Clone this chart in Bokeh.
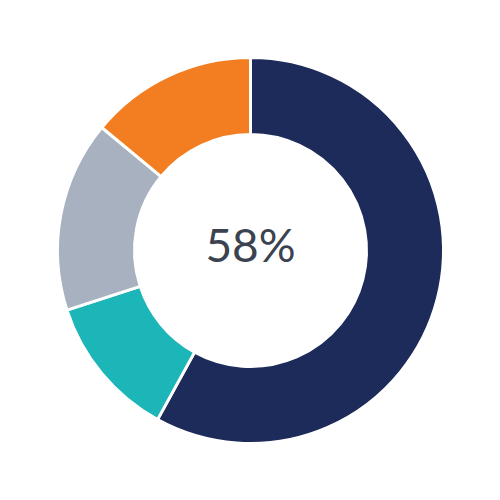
import numpy as np
from bokeh.plotting import figure
from bokeh.models import Range1d, ColumnDataSource
from bokeh.core.properties import value
from bokeh.embed import file_html
from bokeh.resources import INLINE

categories = ["Navy", "Teal", "Gray", "Orange"]
shares = [58, 12, 16, 14]
colors = ["#1c2b59", "#1cb5b8", "#a7b1c0", "#f37e21"]
center_label = "58%"

total = float(sum(shares))
cum = np.cumsum([0] + shares) / total
start = [np.pi / 2 - 2 * np.pi * c for c in cum[:-1]]
end = [np.pi / 2 - 2 * np.pi * c for c in cum[1:]]

src = ColumnDataSource(dict(cat=categories, share=shares, color=colors,
                            start=start, end=end,
                            x=[0] * len(shares), y=[0] * len(shares)))

p = figure(width=484, height=484, output_backend="svg", toolbar_location=None,
           x_range=Range1d(-250, 234), y_range=Range1d(-234, 250),
           min_border=0)
p.axis.visible = False
p.grid.visible = False
p.outline_line_color = None
p.background_fill_color = "white"
p.border_fill_color = "white"

p.annular_wedge(x="x", y="y", inner_radius=116, outer_radius=193,
                start_angle="start", end_angle="end", direction="clock",
                fill_color="color", line_color="white", line_width=3, source=src)

p.text(x=[0], y=[0], text=[center_label], text_align="center", text_baseline="middle",
       y_offset=-6, text_font=value("Lato"), text_font_size="46px", text_color="#3b4250")

open("out.html", "w").write(file_html(p, INLINE))
